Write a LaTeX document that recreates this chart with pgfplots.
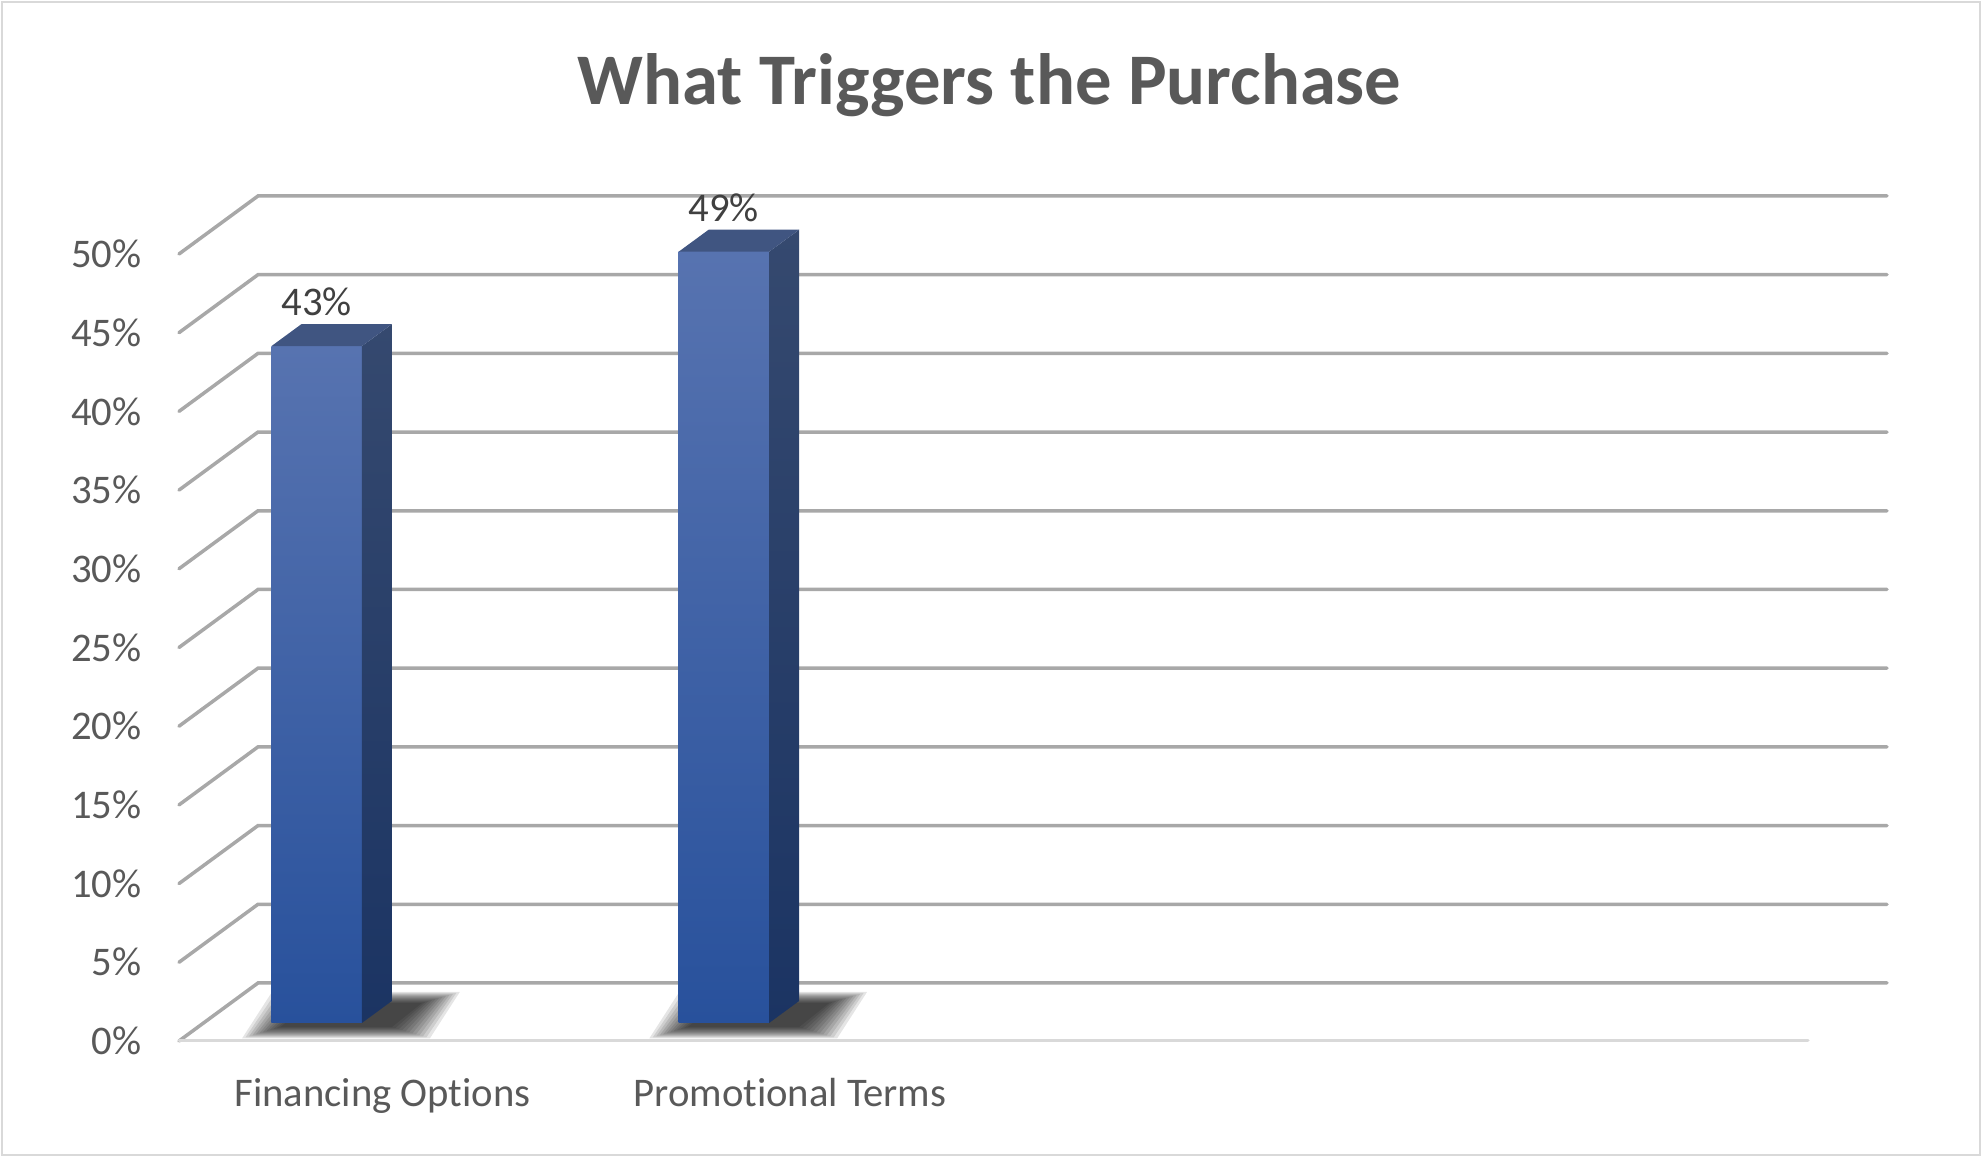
\documentclass[border=0pt]{standalone}
\usepackage{fontspec}
\setmainfont{Carlito}[Ligatures={NoCommon}]
\usepackage{pgfplots}
\usepackage{pgfplotstable}
\pgfplotsset{compat=1.18}

\definecolor{gridgray}{HTML}{A8A8A8}
\definecolor{floorgray}{HTML}{D9D9D9}
\definecolor{bordergray}{HTML}{D9D9D9}
\definecolor{tickgray}{HTML}{595959}
\definecolor{labelgray}{HTML}{404040}
\definecolor{titlegray}{HTML}{595959}
\definecolor{fronttop}{HTML}{5773B0}
\definecolor{frontmid}{HTML}{2F5BA9}
\definecolor{frontbot}{HTML}{28519C}
\definecolor{sidetop}{HTML}{35496F}
\definecolor{sidebot}{HTML}{1B3463}
\definecolor{topface}{HTML}{405581}

% one row per category (cat = position on the x axis)
\pgfplotstableread{
cat value
0   43
1   49
}\triggers

% 3d column: front face, side, top and a soft floor shadow
% #1 category index, #2 value in percent
\newcommand{\cubebar}[2]{%
  \pgfmathsetmacro\xl{#1+0.2268}%
  \pgfmathsetmacro\xr{#1+0.4490}%
  \pgfmathsetmacro\xlb{\xl+0.0737}%
  \pgfmathsetmacro\xrb{\xr+0.0737}%
  \pgfmathsetmacro\ya{1.143}%
  \pgfmathsetmacro\yb{#2+1.143}%
  \pgfmathsetmacro\yab{2.541}%
  \pgfmathsetmacro\ybb{#2+2.541}%
  \pgfplotsforeachungrouped \k in {12,11,...,1}{%
    \pgfmathsetmacro\ex{0.0085*\k}%
    \pgfmathsetmacro\ey{0.065*\k}%
    \pgfmathsetmacro\sa{\xl+0.03-\ex}%
    \pgfmathsetmacro\sb{\xr+0.065+\ex}%
    \pgfmathsetmacro\sc{\xrb+0.065+\ex}%
    \pgfmathsetmacro\sd{\xlb+0.03-\ex}%
    \pgfmathsetmacro\sy{\ya-0.2-\ey}%
    \pgfmathsetmacro\sz{\yab-0.2+\ey}%
    \addplot[draw=none, fill=black, fill opacity=0.1, forget plot]
      coordinates {(\sa,\sy) (\sb,\sy) (\sc,\sz) (\sd,\sz)} -- cycle;
  }%
  \addplot[draw=none, top color=fronttop, middle color=frontmid, bottom color=frontbot, forget plot]
    coordinates {(\xl,\ya) (\xr,\ya) (\xr,\yb) (\xl,\yb)} -- cycle;
  \addplot[draw=none, top color=sidetop, bottom color=sidebot, forget plot]
    coordinates {(\xr,\ya) (\xrb,\yab) (\xrb,\ybb) (\xr,\yb)} -- cycle;
  \addplot[draw=none, fill=topface, forget plot]
    coordinates {(\xl,\yb) (\xr,\yb) (\xrb,\ybb) (\xlb,\ybb)} -- cycle;
}

\begin{document}
\pgfplotstablegetelem{0}{value}\of\triggers \let\valA\pgfplotsretval
\pgfplotstablegetelem{1}{value}\of\triggers \let\valB\pgfplotsretval
\begin{tikzpicture}
\useasboundingbox (0,0) rectangle (594.6pt,347.1pt);
\draw[bordergray, line width=0.6pt] (0.6pt,0.6pt) rectangle (594pt,346.5pt);
\node[anchor=base, font=\fontsize{21.8pt}{26pt}\selectfont\bfseries, text=titlegray]
  at (296.9pt,315.6pt) {What Triggers the Purchase};

\begin{axis}[
  at={(53.7pt,34.8pt)}, anchor=south west,
  scale only axis, width=488.7pt, height=236.1pt,
  xmin=0, xmax=4, ymin=0, ymax=50,
  clip=false,
  axis line style={draw=none},
  major tick length=0pt,
  ytick={0,5,...,50},
  yticklabel={\pgfmathprintnumber{\tick}\%},
  xtick={0.5,1.5},
  xticklabels={Financing Options,Promotional Terms},
  /pgf/number format/assume math mode=true,
  ticklabel style={font=\fontsize{12.2pt}{14pt}\selectfont, text=tickgray},
  yticklabel style={anchor=east, inner sep=0pt, xshift=-11.1pt},
  xticklabel style={anchor=base, inner sep=0pt, yshift=-19.8pt},
]

% back wall and side wall grid
\pgfplotsinvokeforeach{0,5,...,50}{
  \draw[gridgray, line width=1.05pt, line cap=round]
    (axis cs:0,#1) -- ++(23.7pt,17.4pt) -- ([shift={(23.7pt,17.4pt)}]axis cs:4,#1);
}
\draw[floorgray, line width=0.9pt, line cap=round] (axis cs:0,0) -- (axis cs:4,0);

\cubebar{0}{\valA}
\cubebar{1}{\valB}

\addplot[draw=none, forget plot,
  nodes near coords={\pgfmathprintnumber{\pgfplotspointmeta}\%},
  point meta=explicit,
  every node near coord/.style={anchor=center, yshift=13.2pt,
    font=\fontsize{12.2pt}{14pt}\selectfont, text=labelgray}]
  table[x expr=\thisrow{cat}+0.3379, y expr=\thisrow{value}+1.143, meta=value]{\triggers};

\end{axis}
\end{tikzpicture}
\end{document}
